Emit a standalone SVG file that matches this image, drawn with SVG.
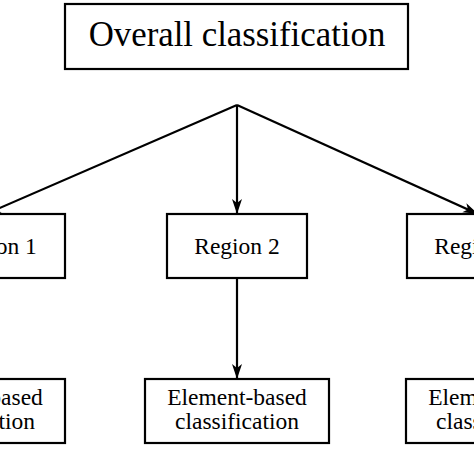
<svg xmlns="http://www.w3.org/2000/svg" width="474" height="474" viewBox="0 0 474 474">
<style>
.box{fill:#fff;stroke:#000;stroke-width:2.2}
.t{font-family:"Liberation Serif","Times New Roman",serif;fill:#000;text-anchor:middle}
.c{stroke:#000;stroke-width:2.2;fill:none}
</style>
<defs>
<marker id="ah" markerUnits="userSpaceOnUse" markerWidth="16" markerHeight="12" viewBox="0 0 16 12" refX="15" refY="6" orient="auto">
<path d="M0,1 L15,6 L0,11 L4,6 Z" fill="#000"/>
</marker>
</defs>
<rect width="474" height="474" fill="#fff"/>
<g id="connectors">
<line class="c" x1="237" y1="105" x2="-14" y2="214" marker-end="url(#ah)"/>
<line class="c" x1="237" y1="105" x2="478" y2="214" marker-end="url(#ah)"/>
<line class="c" x1="237" y1="105" x2="237" y2="214" marker-end="url(#ah)"/>
<line class="c" x1="237" y1="278" x2="237" y2="379" marker-end="url(#ah)"/>
</g>
<g id="overall">
<rect class="box" x="65" y="4" width="343" height="65"/>
<text class="t" x="237" y="46" font-size="34.8">Overall classification</text>
</g>
<g id="region1">
<rect class="box" x="-77" y="214" width="142" height="64"/>
<text class="t" x="-6" y="254" font-size="23.5">Region 1</text>
</g>
<g id="region2">
<rect class="box" x="167" y="214" width="140" height="64"/>
<text class="t" x="237" y="254" font-size="23.5">Region 2</text>
</g>
<g id="region3">
<rect class="box" x="407" y="214" width="140" height="64"/>
<text class="t" x="477" y="254" font-size="23.5">Region 3</text>
</g>
<g id="element1">
<rect class="box" x="-119" y="379" width="184" height="64"/>
<text class="t" x="-27" y="405" font-size="23.5">Element-based</text>
<text class="t" x="-27" y="429" font-size="23.5">classification</text>
</g>
<g id="element2">
<rect class="box" x="145" y="379" width="184" height="64"/>
<text class="t" x="237" y="405" font-size="23.5">Element-based</text>
<text class="t" x="237" y="429" font-size="23.5">classification</text>
</g>
<g id="element3">
<rect class="box" x="406" y="379" width="184" height="64"/>
<text class="t" x="498" y="405" font-size="23.5">Element-based</text>
<text class="t" x="498" y="429" font-size="23.5">classification</text>
</g>
</svg>
